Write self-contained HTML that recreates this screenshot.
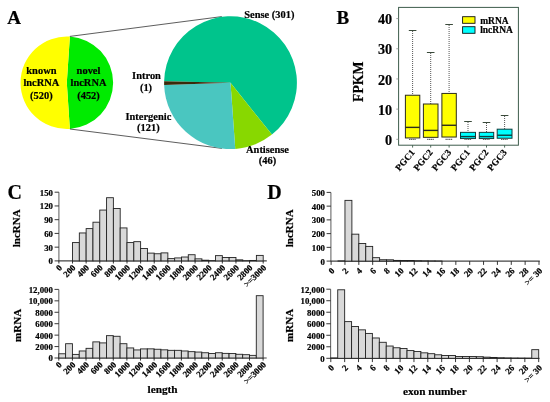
<!DOCTYPE html>
<html><head><meta charset="utf-8"><style>
html,body{margin:0;padding:0;background:#fff;}
body{width:550px;height:402px;overflow:hidden;}
svg{display:block;font-family:"Liberation Serif", serif;will-change:transform;}
text{stroke:currentColor;stroke-width:0.2px;}
</style></head><body>
<svg width="550" height="402" viewBox="0 0 550 402">
<rect width="550" height="402" fill="#fff"/>
<text x="7.20" y="23.80" font-size="19" text-anchor="start" font-weight="bold" fill="#000" >A</text>
<path d="M66.80,82.75 L69.87,36.55 A46.3,46.3 0 0 1 69.87,128.95 Z" fill="#00eb00"/>
<path d="M66.80,82.75 L69.87,128.95 A46.3,46.3 0 1 1 69.87,36.55 Z" fill="#ffff00"/>
<line x1="69.9" y1="36.4" x2="221.8" y2="16.6" stroke="#333" stroke-width="0.8"/>
<line x1="69.9" y1="129.0" x2="222.0" y2="148.4" stroke="#333" stroke-width="0.8"/>
<path d="M230.50,82.70 L164.12,81.19 A66.4,66.4 0 1 1 271.93,134.59 Z" fill="#00c48c"/>
<path d="M230.50,82.70 L271.93,134.59 A66.4,66.4 0 0 1 235.25,148.93 Z" fill="#88d800"/>
<path d="M230.50,82.70 L235.25,148.93 A66.4,66.4 0 0 1 164.14,85.02 Z" fill="#4ac6c0"/>
<path d="M230.50,82.70 L164.14,85.02 A66.4,66.4 0 0 1 164.12,81.19 Z" fill="#3a2a0a"/>
<text x="0" y="0" font-size="10.45" text-anchor="middle" font-weight="bold" fill="#000" transform="translate(41.40,73.80) scale(1,1.09)" >known</text>
<text x="0" y="0" font-size="10.45" text-anchor="middle" font-weight="bold" fill="#000" transform="translate(41.40,86.10) scale(1,1.09)" >lncRNA</text>
<text x="0" y="0" font-size="10.45" text-anchor="middle" font-weight="bold" fill="#000" transform="translate(41.40,98.80) scale(1,1.09)" >(520)</text>
<text x="0" y="0" font-size="10.45" text-anchor="middle" font-weight="bold" fill="#000" transform="translate(88.50,73.80) scale(1,1.09)" >novel</text>
<text x="0" y="0" font-size="10.45" text-anchor="middle" font-weight="bold" fill="#000" transform="translate(88.50,86.10) scale(1,1.09)" >lncRNA</text>
<text x="0" y="0" font-size="10.45" text-anchor="middle" font-weight="bold" fill="#000" transform="translate(88.50,98.80) scale(1,1.09)" >(452)</text>
<text x="0" y="0" font-size="10.45" text-anchor="middle" font-weight="bold" fill="#000" transform="translate(269.30,18.30) scale(1,1.09)" >Sense (301)</text>
<text x="0" y="0" font-size="10.45" text-anchor="middle" font-weight="bold" fill="#000" transform="translate(146.50,78.90) scale(1,1.09)" >Intron</text>
<text x="0" y="0" font-size="10.45" text-anchor="middle" font-weight="bold" fill="#000" transform="translate(146.00,90.60) scale(1,1.09)" >(1)</text>
<text x="0" y="0" font-size="10.45" text-anchor="middle" font-weight="bold" fill="#000" transform="translate(148.40,119.60) scale(1,1.09)" >Intergenic</text>
<text x="0" y="0" font-size="10.45" text-anchor="middle" font-weight="bold" fill="#000" transform="translate(148.40,130.70) scale(1,1.09)" >(121)</text>
<text x="0" y="0" font-size="10.45" text-anchor="middle" font-weight="bold" fill="#000" transform="translate(267.50,152.60) scale(1,1.09)" >Antisense</text>
<text x="0" y="0" font-size="10.45" text-anchor="middle" font-weight="bold" fill="#000" transform="translate(267.40,163.70) scale(1,1.09)" >(46)</text>
<text x="336.50" y="23.60" font-size="19" text-anchor="start" font-weight="bold" fill="#000" >B</text>
<rect x="398.6" y="7.4" width="119.79999999999995" height="137.79999999999998" fill="none" stroke="#3d5c4c" stroke-width="1.0"/>
<line x1="396.3" y1="139.30" x2="398.6" y2="139.30" stroke="#888" stroke-width="0.8"/>
<text x="392.20" y="145.00" font-size="14.2" text-anchor="end" font-weight="bold" fill="#000" >0</text>
<line x1="396.3" y1="109.12" x2="398.6" y2="109.12" stroke="#888" stroke-width="0.8"/>
<text x="392.20" y="114.83" font-size="14.2" text-anchor="end" font-weight="bold" fill="#000" >10</text>
<line x1="396.3" y1="78.95" x2="398.6" y2="78.95" stroke="#888" stroke-width="0.8"/>
<text x="392.20" y="84.65" font-size="14.2" text-anchor="end" font-weight="bold" fill="#000" >20</text>
<line x1="396.3" y1="48.77" x2="398.6" y2="48.77" stroke="#888" stroke-width="0.8"/>
<text x="392.20" y="54.47" font-size="14.2" text-anchor="end" font-weight="bold" fill="#000" >30</text>
<line x1="396.3" y1="18.60" x2="398.6" y2="18.60" stroke="#888" stroke-width="0.8"/>
<text x="392.20" y="24.30" font-size="14.2" text-anchor="end" font-weight="bold" fill="#000" >40</text>
<text x="0" y="0" font-size="13.8" font-weight="bold" text-anchor="middle" transform="translate(363.2,81.7) rotate(-90)">FPKM</text>
<rect x="462.6" y="16.7" width="12.4" height="6.6" fill="#ffff00" stroke="#111" stroke-width="0.9"/>
<rect x="462.6" y="26.7" width="12.4" height="6.6" fill="#00ffff" stroke="#111" stroke-width="0.9"/>
<text x="480.20" y="23.50" font-size="9.5" text-anchor="start" font-weight="bold" fill="#000" >mRNA</text>
<text x="480.20" y="33.30" font-size="9.5" text-anchor="start" font-weight="bold" fill="#000" >lncRNA</text>
<line x1="412.60" y1="31.00" x2="412.60" y2="95.24" stroke="#444" stroke-width="0.9" stroke-dasharray="1,1"/>
<line x1="408.80" y1="30.50" x2="416.40" y2="30.50" stroke="#3a4a3a" stroke-width="1"/>
<rect x="405.4" y="95.24" width="14.40" height="42.70" fill="#ffff00" stroke="#2c2c1c" stroke-width="1"/>
<line x1="405.4" y1="127.38" x2="419.8" y2="127.38" stroke="#2c2c1c" stroke-width="1.4"/>
<line x1="409.00" y1="139.40" x2="416.20" y2="139.40" stroke="#666" stroke-width="1.1" stroke-dasharray="1.3,0.5"/>
<line x1="412.60" y1="145.2" x2="412.60" y2="147.6" stroke="#3d5c4c" stroke-width="0.9"/>
<line x1="430.70" y1="53.00" x2="430.70" y2="104.00" stroke="#444" stroke-width="0.9" stroke-dasharray="1,1"/>
<line x1="426.90" y1="52.50" x2="434.50" y2="52.50" stroke="#3a4a3a" stroke-width="1"/>
<rect x="423.4" y="104.00" width="14.60" height="33.34" fill="#ffff00" stroke="#2c2c1c" stroke-width="1"/>
<line x1="423.4" y1="130.40" x2="438.0" y2="130.40" stroke="#2c2c1c" stroke-width="1.4"/>
<line x1="427.10" y1="139.40" x2="434.30" y2="139.40" stroke="#666" stroke-width="1.1" stroke-dasharray="1.3,0.5"/>
<line x1="430.70" y1="145.2" x2="430.70" y2="147.6" stroke="#3d5c4c" stroke-width="0.9"/>
<line x1="449.10" y1="25.00" x2="449.10" y2="93.43" stroke="#444" stroke-width="0.9" stroke-dasharray="1,1"/>
<line x1="445.30" y1="24.50" x2="452.90" y2="24.50" stroke="#3a4a3a" stroke-width="1"/>
<rect x="441.9" y="93.43" width="14.40" height="43.60" fill="#ffff00" stroke="#2c2c1c" stroke-width="1"/>
<line x1="441.9" y1="125.27" x2="456.3" y2="125.27" stroke="#2c2c1c" stroke-width="1.4"/>
<line x1="445.50" y1="139.40" x2="452.70" y2="139.40" stroke="#666" stroke-width="1.1" stroke-dasharray="1.3,0.5"/>
<line x1="449.10" y1="145.2" x2="449.10" y2="147.6" stroke="#3d5c4c" stroke-width="0.9"/>
<line x1="468.00" y1="122.00" x2="468.00" y2="132.36" stroke="#444" stroke-width="0.9" stroke-dasharray="1,1"/>
<line x1="464.20" y1="121.50" x2="471.80" y2="121.50" stroke="#3a4a3a" stroke-width="1"/>
<rect x="460.5" y="132.36" width="15.00" height="6.19" fill="#00ffff" stroke="#0d3d3d" stroke-width="1"/>
<line x1="460.5" y1="136.58" x2="475.5" y2="136.58" stroke="#0d3d3d" stroke-width="1.4"/>
<line x1="464.40" y1="139.40" x2="471.60" y2="139.40" stroke="#666" stroke-width="1.1" stroke-dasharray="1.3,0.5"/>
<line x1="468.00" y1="145.2" x2="468.00" y2="147.6" stroke="#3d5c4c" stroke-width="0.9"/>
<line x1="486.50" y1="123.00" x2="486.50" y2="132.36" stroke="#444" stroke-width="0.9" stroke-dasharray="1,1"/>
<line x1="482.70" y1="122.50" x2="490.30" y2="122.50" stroke="#3a4a3a" stroke-width="1"/>
<rect x="479.3" y="132.36" width="14.40" height="6.19" fill="#00ffff" stroke="#0d3d3d" stroke-width="1"/>
<line x1="479.3" y1="136.58" x2="493.7" y2="136.58" stroke="#0d3d3d" stroke-width="1.4"/>
<line x1="482.90" y1="139.40" x2="490.10" y2="139.40" stroke="#666" stroke-width="1.1" stroke-dasharray="1.3,0.5"/>
<line x1="486.50" y1="145.2" x2="486.50" y2="147.6" stroke="#3d5c4c" stroke-width="0.9"/>
<line x1="504.60" y1="116.00" x2="504.60" y2="129.19" stroke="#444" stroke-width="0.9" stroke-dasharray="1,1"/>
<line x1="500.80" y1="115.50" x2="508.40" y2="115.50" stroke="#3a4a3a" stroke-width="1"/>
<rect x="497.2" y="129.19" width="14.80" height="9.05" fill="#00ffff" stroke="#0d3d3d" stroke-width="1"/>
<line x1="497.2" y1="135.23" x2="512.0" y2="135.23" stroke="#0d3d3d" stroke-width="1.4"/>
<line x1="501.00" y1="139.40" x2="508.20" y2="139.40" stroke="#666" stroke-width="1.1" stroke-dasharray="1.3,0.5"/>
<line x1="504.60" y1="145.2" x2="504.60" y2="147.6" stroke="#3d5c4c" stroke-width="0.9"/>
<text x="0" y="0" font-size="9.3" font-weight="bold" text-anchor="end" transform="translate(415.20,152.80) rotate(-50)">PGC1</text>
<text x="0" y="0" font-size="9.3" font-weight="bold" text-anchor="end" transform="translate(433.30,152.80) rotate(-50)">PGC2</text>
<text x="0" y="0" font-size="9.3" font-weight="bold" text-anchor="end" transform="translate(451.70,152.80) rotate(-50)">PGC3</text>
<text x="0" y="0" font-size="9.3" font-weight="bold" text-anchor="end" transform="translate(470.60,152.80) rotate(-50)">PGC1</text>
<text x="0" y="0" font-size="9.3" font-weight="bold" text-anchor="end" transform="translate(489.10,152.80) rotate(-50)">PGC2</text>
<text x="0" y="0" font-size="9.3" font-weight="bold" text-anchor="end" transform="translate(507.20,152.80) rotate(-50)">PGC3</text>
<line x1="58.9" y1="192.20" x2="58.9" y2="260.90" stroke="#6a6a6a" stroke-width="1.1"/>
<line x1="54.60" y1="260.90" x2="58.9" y2="260.90" stroke="#222" stroke-width="0.9"/>
<text x="53.00" y="264.30" font-size="8.8" text-anchor="end" font-weight="bold" fill="#000" >0</text>
<line x1="54.60" y1="247.16" x2="58.9" y2="247.16" stroke="#222" stroke-width="0.9"/>
<text x="53.00" y="250.56" font-size="8.8" text-anchor="end" font-weight="bold" fill="#000" >30</text>
<line x1="54.60" y1="233.42" x2="58.9" y2="233.42" stroke="#222" stroke-width="0.9"/>
<text x="53.00" y="236.82" font-size="8.8" text-anchor="end" font-weight="bold" fill="#000" >60</text>
<line x1="54.60" y1="219.68" x2="58.9" y2="219.68" stroke="#222" stroke-width="0.9"/>
<text x="53.00" y="223.08" font-size="8.8" text-anchor="end" font-weight="bold" fill="#000" >90</text>
<line x1="54.60" y1="205.94" x2="58.9" y2="205.94" stroke="#222" stroke-width="0.9"/>
<text x="53.00" y="209.34" font-size="8.8" text-anchor="end" font-weight="bold" fill="#000" >120</text>
<line x1="54.60" y1="192.20" x2="58.9" y2="192.20" stroke="#222" stroke-width="0.9"/>
<text x="53.00" y="195.60" font-size="8.8" text-anchor="end" font-weight="bold" fill="#000" >150</text>
<line x1="58.40" y1="260.90" x2="266.80" y2="260.90" stroke="#454545" stroke-width="1.2"/>
<rect x="72.52" y="242.58" width="6.81" height="18.32" fill="#d9d9d9" stroke="#222" stroke-width="0.9"/>
<rect x="79.33" y="232.96" width="6.81" height="27.94" fill="#d9d9d9" stroke="#222" stroke-width="0.9"/>
<rect x="86.14" y="228.61" width="6.81" height="32.29" fill="#d9d9d9" stroke="#222" stroke-width="0.9"/>
<rect x="92.95" y="222.20" width="6.81" height="38.70" fill="#d9d9d9" stroke="#222" stroke-width="0.9"/>
<rect x="99.76" y="210.06" width="6.81" height="50.84" fill="#d9d9d9" stroke="#222" stroke-width="0.9"/>
<rect x="106.57" y="197.70" width="6.81" height="63.20" fill="#d9d9d9" stroke="#222" stroke-width="0.9"/>
<rect x="113.38" y="208.46" width="6.81" height="52.44" fill="#d9d9d9" stroke="#222" stroke-width="0.9"/>
<rect x="120.19" y="227.92" width="6.81" height="32.98" fill="#d9d9d9" stroke="#222" stroke-width="0.9"/>
<rect x="127.00" y="242.58" width="6.81" height="18.32" fill="#d9d9d9" stroke="#222" stroke-width="0.9"/>
<rect x="133.81" y="241.66" width="6.81" height="19.24" fill="#d9d9d9" stroke="#222" stroke-width="0.9"/>
<rect x="140.62" y="248.53" width="6.81" height="12.37" fill="#d9d9d9" stroke="#222" stroke-width="0.9"/>
<rect x="147.43" y="253.11" width="6.81" height="7.79" fill="#d9d9d9" stroke="#222" stroke-width="0.9"/>
<rect x="154.24" y="253.76" width="6.81" height="7.14" fill="#d9d9d9" stroke="#222" stroke-width="0.9"/>
<rect x="161.05" y="252.88" width="6.81" height="8.01" fill="#d9d9d9" stroke="#222" stroke-width="0.9"/>
<rect x="167.86" y="258.61" width="6.81" height="2.29" fill="#d9d9d9" stroke="#222" stroke-width="0.9"/>
<rect x="174.67" y="257.92" width="6.81" height="2.98" fill="#d9d9d9" stroke="#222" stroke-width="0.9"/>
<rect x="181.48" y="257.01" width="6.81" height="3.89" fill="#d9d9d9" stroke="#222" stroke-width="0.9"/>
<rect x="188.29" y="254.72" width="6.81" height="6.18" fill="#d9d9d9" stroke="#222" stroke-width="0.9"/>
<rect x="195.10" y="258.84" width="6.81" height="2.06" fill="#d9d9d9" stroke="#222" stroke-width="0.9"/>
<rect x="201.91" y="260.21" width="6.81" height="0.69" fill="#d9d9d9" stroke="#222" stroke-width="0.9"/>
<rect x="208.72" y="260.63" width="6.81" height="0.27" fill="#d9d9d9" stroke="#222" stroke-width="0.9"/>
<rect x="215.53" y="255.63" width="6.81" height="5.27" fill="#d9d9d9" stroke="#222" stroke-width="0.9"/>
<rect x="222.34" y="257.46" width="6.81" height="3.43" fill="#d9d9d9" stroke="#222" stroke-width="0.9"/>
<rect x="229.15" y="257.46" width="6.81" height="3.43" fill="#d9d9d9" stroke="#222" stroke-width="0.9"/>
<rect x="235.96" y="259.85" width="6.81" height="1.05" fill="#d9d9d9" stroke="#222" stroke-width="0.9"/>
<rect x="242.77" y="260.76" width="6.81" height="0.14" fill="#d9d9d9" stroke="#222" stroke-width="0.9"/>
<rect x="249.58" y="260.44" width="6.81" height="0.46" fill="#d9d9d9" stroke="#222" stroke-width="0.9"/>
<rect x="256.39" y="255.40" width="6.81" height="5.50" fill="#d9d9d9" stroke="#222" stroke-width="0.9"/>
<line x1="58.90" y1="260.90" x2="58.90" y2="263.50" stroke="#222" stroke-width="0.9"/>
<text x="0" y="0" font-size="8.8" font-weight="bold" text-anchor="end" transform="translate(62.50,268.30) rotate(-45)">0</text>
<line x1="72.52" y1="260.90" x2="72.52" y2="263.50" stroke="#222" stroke-width="0.9"/>
<text x="0" y="0" font-size="8.8" font-weight="bold" text-anchor="end" transform="translate(76.12,268.30) rotate(-45)">200</text>
<line x1="86.14" y1="260.90" x2="86.14" y2="263.50" stroke="#222" stroke-width="0.9"/>
<text x="0" y="0" font-size="8.8" font-weight="bold" text-anchor="end" transform="translate(89.74,268.30) rotate(-45)">400</text>
<line x1="99.76" y1="260.90" x2="99.76" y2="263.50" stroke="#222" stroke-width="0.9"/>
<text x="0" y="0" font-size="8.8" font-weight="bold" text-anchor="end" transform="translate(103.36,268.30) rotate(-45)">600</text>
<line x1="113.38" y1="260.90" x2="113.38" y2="263.50" stroke="#222" stroke-width="0.9"/>
<text x="0" y="0" font-size="8.8" font-weight="bold" text-anchor="end" transform="translate(116.98,268.30) rotate(-45)">800</text>
<line x1="127.00" y1="260.90" x2="127.00" y2="263.50" stroke="#222" stroke-width="0.9"/>
<text x="0" y="0" font-size="8.8" font-weight="bold" text-anchor="end" transform="translate(130.60,268.30) rotate(-45)">1000</text>
<line x1="140.62" y1="260.90" x2="140.62" y2="263.50" stroke="#222" stroke-width="0.9"/>
<text x="0" y="0" font-size="8.8" font-weight="bold" text-anchor="end" transform="translate(144.22,268.30) rotate(-45)">1200</text>
<line x1="154.24" y1="260.90" x2="154.24" y2="263.50" stroke="#222" stroke-width="0.9"/>
<text x="0" y="0" font-size="8.8" font-weight="bold" text-anchor="end" transform="translate(157.84,268.30) rotate(-45)">1400</text>
<line x1="167.86" y1="260.90" x2="167.86" y2="263.50" stroke="#222" stroke-width="0.9"/>
<text x="0" y="0" font-size="8.8" font-weight="bold" text-anchor="end" transform="translate(171.46,268.30) rotate(-45)">1600</text>
<line x1="181.48" y1="260.90" x2="181.48" y2="263.50" stroke="#222" stroke-width="0.9"/>
<text x="0" y="0" font-size="8.8" font-weight="bold" text-anchor="end" transform="translate(185.08,268.30) rotate(-45)">1800</text>
<line x1="195.10" y1="260.90" x2="195.10" y2="263.50" stroke="#222" stroke-width="0.9"/>
<text x="0" y="0" font-size="8.8" font-weight="bold" text-anchor="end" transform="translate(198.70,268.30) rotate(-45)">2000</text>
<line x1="208.72" y1="260.90" x2="208.72" y2="263.50" stroke="#222" stroke-width="0.9"/>
<text x="0" y="0" font-size="8.8" font-weight="bold" text-anchor="end" transform="translate(212.32,268.30) rotate(-45)">2200</text>
<line x1="222.34" y1="260.90" x2="222.34" y2="263.50" stroke="#222" stroke-width="0.9"/>
<text x="0" y="0" font-size="8.8" font-weight="bold" text-anchor="end" transform="translate(225.94,268.30) rotate(-45)">2400</text>
<line x1="235.96" y1="260.90" x2="235.96" y2="263.50" stroke="#222" stroke-width="0.9"/>
<text x="0" y="0" font-size="8.8" font-weight="bold" text-anchor="end" transform="translate(239.56,268.30) rotate(-45)">2600</text>
<line x1="249.58" y1="260.90" x2="249.58" y2="263.50" stroke="#222" stroke-width="0.9"/>
<text x="0" y="0" font-size="8.8" font-weight="bold" text-anchor="end" transform="translate(253.18,268.30) rotate(-45)">2800</text>
<line x1="263.20" y1="260.90" x2="263.20" y2="263.50" stroke="#222" stroke-width="0.9"/>
<text x="0" y="0" font-size="8.8" font-weight="bold" text-anchor="end" transform="translate(266.80,268.30) rotate(-45)"><tspan font-weight="normal" fill="#1a1a1a">&gt;=</tspan>3000</text>
<text x="0" y="0" font-size="11" font-weight="bold" text-anchor="middle" transform="translate(20.30,228.30) rotate(-90)">lncRNA</text>
<line x1="58.8" y1="289.40" x2="58.8" y2="358.00" stroke="#6a6a6a" stroke-width="1.1"/>
<line x1="54.50" y1="358.00" x2="58.8" y2="358.00" stroke="#222" stroke-width="0.9"/>
<text x="52.90" y="361.40" font-size="8.8" text-anchor="end" font-weight="bold" fill="#000" >0</text>
<line x1="54.50" y1="346.57" x2="58.8" y2="346.57" stroke="#222" stroke-width="0.9"/>
<text x="52.90" y="349.97" font-size="8.8" text-anchor="end" font-weight="bold" fill="#000" >2000</text>
<line x1="54.50" y1="335.13" x2="58.8" y2="335.13" stroke="#222" stroke-width="0.9"/>
<text x="52.90" y="338.53" font-size="8.8" text-anchor="end" font-weight="bold" fill="#000" >4000</text>
<line x1="54.50" y1="323.70" x2="58.8" y2="323.70" stroke="#222" stroke-width="0.9"/>
<text x="52.90" y="327.10" font-size="8.8" text-anchor="end" font-weight="bold" fill="#000" >6000</text>
<line x1="54.50" y1="312.27" x2="58.8" y2="312.27" stroke="#222" stroke-width="0.9"/>
<text x="52.90" y="315.67" font-size="8.8" text-anchor="end" font-weight="bold" fill="#000" >8000</text>
<line x1="54.50" y1="300.83" x2="58.8" y2="300.83" stroke="#222" stroke-width="0.9"/>
<text x="52.90" y="304.23" font-size="8.8" text-anchor="end" font-weight="bold" fill="#000" >10,000</text>
<line x1="54.50" y1="289.40" x2="58.8" y2="289.40" stroke="#222" stroke-width="0.9"/>
<text x="52.90" y="292.80" font-size="8.8" text-anchor="end" font-weight="bold" fill="#000" >12,000</text>
<line x1="58.30" y1="358.00" x2="266.70" y2="358.00" stroke="#454545" stroke-width="1.2"/>
<rect x="58.80" y="353.77" width="6.81" height="4.23" fill="#d9d9d9" stroke="#222" stroke-width="0.9"/>
<rect x="65.61" y="343.71" width="6.81" height="14.29" fill="#d9d9d9" stroke="#222" stroke-width="0.9"/>
<rect x="72.42" y="354.40" width="6.81" height="3.60" fill="#d9d9d9" stroke="#222" stroke-width="0.9"/>
<rect x="79.23" y="350.97" width="6.81" height="7.03" fill="#d9d9d9" stroke="#222" stroke-width="0.9"/>
<rect x="86.04" y="348.34" width="6.81" height="9.66" fill="#d9d9d9" stroke="#222" stroke-width="0.9"/>
<rect x="92.85" y="341.88" width="6.81" height="16.12" fill="#d9d9d9" stroke="#222" stroke-width="0.9"/>
<rect x="99.66" y="342.91" width="6.81" height="15.09" fill="#d9d9d9" stroke="#222" stroke-width="0.9"/>
<rect x="106.47" y="335.65" width="6.81" height="22.35" fill="#d9d9d9" stroke="#222" stroke-width="0.9"/>
<rect x="113.28" y="336.28" width="6.81" height="21.72" fill="#d9d9d9" stroke="#222" stroke-width="0.9"/>
<rect x="120.09" y="343.71" width="6.81" height="14.29" fill="#d9d9d9" stroke="#222" stroke-width="0.9"/>
<rect x="126.90" y="347.94" width="6.81" height="10.06" fill="#d9d9d9" stroke="#222" stroke-width="0.9"/>
<rect x="133.71" y="349.94" width="6.81" height="8.06" fill="#d9d9d9" stroke="#222" stroke-width="0.9"/>
<rect x="140.52" y="348.91" width="6.81" height="9.09" fill="#d9d9d9" stroke="#222" stroke-width="0.9"/>
<rect x="147.33" y="348.85" width="6.81" height="9.15" fill="#d9d9d9" stroke="#222" stroke-width="0.9"/>
<rect x="154.14" y="349.25" width="6.81" height="8.75" fill="#d9d9d9" stroke="#222" stroke-width="0.9"/>
<rect x="160.95" y="349.83" width="6.81" height="8.17" fill="#d9d9d9" stroke="#222" stroke-width="0.9"/>
<rect x="167.76" y="350.34" width="6.81" height="7.66" fill="#d9d9d9" stroke="#222" stroke-width="0.9"/>
<rect x="174.57" y="350.34" width="6.81" height="7.66" fill="#d9d9d9" stroke="#222" stroke-width="0.9"/>
<rect x="181.38" y="350.97" width="6.81" height="7.03" fill="#d9d9d9" stroke="#222" stroke-width="0.9"/>
<rect x="188.19" y="351.65" width="6.81" height="6.35" fill="#d9d9d9" stroke="#222" stroke-width="0.9"/>
<rect x="195.00" y="352.05" width="6.81" height="5.95" fill="#d9d9d9" stroke="#222" stroke-width="0.9"/>
<rect x="201.81" y="352.74" width="6.81" height="5.26" fill="#d9d9d9" stroke="#222" stroke-width="0.9"/>
<rect x="208.62" y="353.54" width="6.81" height="4.46" fill="#d9d9d9" stroke="#222" stroke-width="0.9"/>
<rect x="215.43" y="352.74" width="6.81" height="5.26" fill="#d9d9d9" stroke="#222" stroke-width="0.9"/>
<rect x="222.24" y="353.37" width="6.81" height="4.63" fill="#d9d9d9" stroke="#222" stroke-width="0.9"/>
<rect x="229.05" y="353.54" width="6.81" height="4.46" fill="#d9d9d9" stroke="#222" stroke-width="0.9"/>
<rect x="235.86" y="354.28" width="6.81" height="3.72" fill="#d9d9d9" stroke="#222" stroke-width="0.9"/>
<rect x="242.67" y="354.68" width="6.81" height="3.32" fill="#d9d9d9" stroke="#222" stroke-width="0.9"/>
<rect x="249.48" y="355.37" width="6.81" height="2.63" fill="#d9d9d9" stroke="#222" stroke-width="0.9"/>
<rect x="256.29" y="295.69" width="6.81" height="62.31" fill="#d9d9d9" stroke="#222" stroke-width="0.9"/>
<line x1="58.80" y1="358.00" x2="58.80" y2="360.60" stroke="#222" stroke-width="0.9"/>
<text x="0" y="0" font-size="8.8" font-weight="bold" text-anchor="end" transform="translate(62.40,365.40) rotate(-45)">0</text>
<line x1="72.42" y1="358.00" x2="72.42" y2="360.60" stroke="#222" stroke-width="0.9"/>
<text x="0" y="0" font-size="8.8" font-weight="bold" text-anchor="end" transform="translate(76.02,365.40) rotate(-45)">200</text>
<line x1="86.04" y1="358.00" x2="86.04" y2="360.60" stroke="#222" stroke-width="0.9"/>
<text x="0" y="0" font-size="8.8" font-weight="bold" text-anchor="end" transform="translate(89.64,365.40) rotate(-45)">400</text>
<line x1="99.66" y1="358.00" x2="99.66" y2="360.60" stroke="#222" stroke-width="0.9"/>
<text x="0" y="0" font-size="8.8" font-weight="bold" text-anchor="end" transform="translate(103.26,365.40) rotate(-45)">600</text>
<line x1="113.28" y1="358.00" x2="113.28" y2="360.60" stroke="#222" stroke-width="0.9"/>
<text x="0" y="0" font-size="8.8" font-weight="bold" text-anchor="end" transform="translate(116.88,365.40) rotate(-45)">800</text>
<line x1="126.90" y1="358.00" x2="126.90" y2="360.60" stroke="#222" stroke-width="0.9"/>
<text x="0" y="0" font-size="8.8" font-weight="bold" text-anchor="end" transform="translate(130.50,365.40) rotate(-45)">1000</text>
<line x1="140.52" y1="358.00" x2="140.52" y2="360.60" stroke="#222" stroke-width="0.9"/>
<text x="0" y="0" font-size="8.8" font-weight="bold" text-anchor="end" transform="translate(144.12,365.40) rotate(-45)">1200</text>
<line x1="154.14" y1="358.00" x2="154.14" y2="360.60" stroke="#222" stroke-width="0.9"/>
<text x="0" y="0" font-size="8.8" font-weight="bold" text-anchor="end" transform="translate(157.74,365.40) rotate(-45)">1400</text>
<line x1="167.76" y1="358.00" x2="167.76" y2="360.60" stroke="#222" stroke-width="0.9"/>
<text x="0" y="0" font-size="8.8" font-weight="bold" text-anchor="end" transform="translate(171.36,365.40) rotate(-45)">1600</text>
<line x1="181.38" y1="358.00" x2="181.38" y2="360.60" stroke="#222" stroke-width="0.9"/>
<text x="0" y="0" font-size="8.8" font-weight="bold" text-anchor="end" transform="translate(184.98,365.40) rotate(-45)">1800</text>
<line x1="195.00" y1="358.00" x2="195.00" y2="360.60" stroke="#222" stroke-width="0.9"/>
<text x="0" y="0" font-size="8.8" font-weight="bold" text-anchor="end" transform="translate(198.60,365.40) rotate(-45)">2000</text>
<line x1="208.62" y1="358.00" x2="208.62" y2="360.60" stroke="#222" stroke-width="0.9"/>
<text x="0" y="0" font-size="8.8" font-weight="bold" text-anchor="end" transform="translate(212.22,365.40) rotate(-45)">2200</text>
<line x1="222.24" y1="358.00" x2="222.24" y2="360.60" stroke="#222" stroke-width="0.9"/>
<text x="0" y="0" font-size="8.8" font-weight="bold" text-anchor="end" transform="translate(225.84,365.40) rotate(-45)">2400</text>
<line x1="235.86" y1="358.00" x2="235.86" y2="360.60" stroke="#222" stroke-width="0.9"/>
<text x="0" y="0" font-size="8.8" font-weight="bold" text-anchor="end" transform="translate(239.46,365.40) rotate(-45)">2600</text>
<line x1="249.48" y1="358.00" x2="249.48" y2="360.60" stroke="#222" stroke-width="0.9"/>
<text x="0" y="0" font-size="8.8" font-weight="bold" text-anchor="end" transform="translate(253.08,365.40) rotate(-45)">2800</text>
<line x1="263.10" y1="358.00" x2="263.10" y2="360.60" stroke="#222" stroke-width="0.9"/>
<text x="0" y="0" font-size="8.8" font-weight="bold" text-anchor="end" transform="translate(266.70,365.40) rotate(-45)"><tspan font-weight="normal" fill="#1a1a1a">&gt;=</tspan>3000</text>
<text x="0" y="0" font-size="11" font-weight="bold" text-anchor="middle" transform="translate(21.20,325.40) rotate(-90)">mRNA</text>
<line x1="330.9" y1="192.40" x2="330.9" y2="261.10" stroke="#6a6a6a" stroke-width="1.1"/>
<line x1="326.60" y1="261.10" x2="330.9" y2="261.10" stroke="#222" stroke-width="0.9"/>
<text x="325.00" y="264.50" font-size="8.8" text-anchor="end" font-weight="bold" fill="#000" >0</text>
<line x1="326.60" y1="247.36" x2="330.9" y2="247.36" stroke="#222" stroke-width="0.9"/>
<text x="325.00" y="250.76" font-size="8.8" text-anchor="end" font-weight="bold" fill="#000" >100</text>
<line x1="326.60" y1="233.62" x2="330.9" y2="233.62" stroke="#222" stroke-width="0.9"/>
<text x="325.00" y="237.02" font-size="8.8" text-anchor="end" font-weight="bold" fill="#000" >200</text>
<line x1="326.60" y1="219.88" x2="330.9" y2="219.88" stroke="#222" stroke-width="0.9"/>
<text x="325.00" y="223.28" font-size="8.8" text-anchor="end" font-weight="bold" fill="#000" >300</text>
<line x1="326.60" y1="206.14" x2="330.9" y2="206.14" stroke="#222" stroke-width="0.9"/>
<text x="325.00" y="209.54" font-size="8.8" text-anchor="end" font-weight="bold" fill="#000" >400</text>
<line x1="326.60" y1="192.40" x2="330.9" y2="192.40" stroke="#222" stroke-width="0.9"/>
<text x="325.00" y="195.80" font-size="8.8" text-anchor="end" font-weight="bold" fill="#000" >500</text>
<line x1="330.40" y1="261.10" x2="539.80" y2="261.10" stroke="#454545" stroke-width="1.2"/>
<rect x="338.03" y="260.89" width="6.93" height="0.21" fill="#d9d9d9" stroke="#222" stroke-width="0.9"/>
<rect x="344.96" y="200.37" width="6.93" height="60.73" fill="#d9d9d9" stroke="#222" stroke-width="0.9"/>
<rect x="351.89" y="234.17" width="6.93" height="26.93" fill="#d9d9d9" stroke="#222" stroke-width="0.9"/>
<rect x="358.82" y="243.51" width="6.93" height="17.59" fill="#d9d9d9" stroke="#222" stroke-width="0.9"/>
<rect x="365.75" y="246.40" width="6.93" height="14.70" fill="#d9d9d9" stroke="#222" stroke-width="0.9"/>
<rect x="372.68" y="257.67" width="6.93" height="3.44" fill="#d9d9d9" stroke="#222" stroke-width="0.9"/>
<rect x="379.61" y="259.73" width="6.93" height="1.37" fill="#d9d9d9" stroke="#222" stroke-width="0.9"/>
<rect x="386.54" y="259.79" width="6.93" height="1.31" fill="#d9d9d9" stroke="#222" stroke-width="0.9"/>
<rect x="393.47" y="260.41" width="6.93" height="0.69" fill="#d9d9d9" stroke="#222" stroke-width="0.9"/>
<rect x="400.40" y="260.55" width="6.93" height="0.55" fill="#d9d9d9" stroke="#222" stroke-width="0.9"/>
<rect x="407.33" y="260.55" width="6.93" height="0.55" fill="#d9d9d9" stroke="#222" stroke-width="0.9"/>
<rect x="414.26" y="260.69" width="6.93" height="0.41" fill="#d9d9d9" stroke="#222" stroke-width="0.9"/>
<rect x="421.19" y="260.83" width="6.93" height="0.27" fill="#d9d9d9" stroke="#222" stroke-width="0.9"/>
<rect x="428.12" y="260.96" width="6.93" height="0.14" fill="#d9d9d9" stroke="#222" stroke-width="0.9"/>
<rect x="435.05" y="261.03" width="6.93" height="0.07" fill="#d9d9d9" stroke="#222" stroke-width="0.9"/>
<line x1="331.10" y1="261.10" x2="331.10" y2="264.90" stroke="#222" stroke-width="0.9"/>
<text x="0" y="0" font-size="8.8" font-weight="bold" text-anchor="end" transform="translate(335.00,271.30) rotate(-45)">0</text>
<line x1="344.96" y1="261.10" x2="344.96" y2="264.90" stroke="#222" stroke-width="0.9"/>
<text x="0" y="0" font-size="8.8" font-weight="bold" text-anchor="end" transform="translate(348.86,271.30) rotate(-45)">2</text>
<line x1="358.82" y1="261.10" x2="358.82" y2="264.90" stroke="#222" stroke-width="0.9"/>
<text x="0" y="0" font-size="8.8" font-weight="bold" text-anchor="end" transform="translate(362.72,271.30) rotate(-45)">4</text>
<line x1="372.68" y1="261.10" x2="372.68" y2="264.90" stroke="#222" stroke-width="0.9"/>
<text x="0" y="0" font-size="8.8" font-weight="bold" text-anchor="end" transform="translate(376.58,271.30) rotate(-45)">6</text>
<line x1="386.54" y1="261.10" x2="386.54" y2="264.90" stroke="#222" stroke-width="0.9"/>
<text x="0" y="0" font-size="8.8" font-weight="bold" text-anchor="end" transform="translate(390.44,271.30) rotate(-45)">8</text>
<line x1="400.40" y1="261.10" x2="400.40" y2="264.90" stroke="#222" stroke-width="0.9"/>
<text x="0" y="0" font-size="8.8" font-weight="bold" text-anchor="end" transform="translate(404.30,271.30) rotate(-45)">10</text>
<line x1="414.26" y1="261.10" x2="414.26" y2="264.90" stroke="#222" stroke-width="0.9"/>
<text x="0" y="0" font-size="8.8" font-weight="bold" text-anchor="end" transform="translate(418.16,271.30) rotate(-45)">12</text>
<line x1="428.12" y1="261.10" x2="428.12" y2="264.90" stroke="#222" stroke-width="0.9"/>
<text x="0" y="0" font-size="8.8" font-weight="bold" text-anchor="end" transform="translate(432.02,271.30) rotate(-45)">14</text>
<line x1="441.98" y1="261.10" x2="441.98" y2="264.90" stroke="#222" stroke-width="0.9"/>
<text x="0" y="0" font-size="8.8" font-weight="bold" text-anchor="end" transform="translate(445.88,271.30) rotate(-45)">16</text>
<line x1="455.84" y1="261.10" x2="455.84" y2="264.90" stroke="#222" stroke-width="0.9"/>
<text x="0" y="0" font-size="8.8" font-weight="bold" text-anchor="end" transform="translate(459.74,271.30) rotate(-45)">18</text>
<line x1="469.70" y1="261.10" x2="469.70" y2="264.90" stroke="#222" stroke-width="0.9"/>
<text x="0" y="0" font-size="8.8" font-weight="bold" text-anchor="end" transform="translate(473.60,271.30) rotate(-45)">20</text>
<line x1="483.56" y1="261.10" x2="483.56" y2="264.90" stroke="#222" stroke-width="0.9"/>
<text x="0" y="0" font-size="8.8" font-weight="bold" text-anchor="end" transform="translate(487.46,271.30) rotate(-45)">22</text>
<line x1="497.42" y1="261.10" x2="497.42" y2="264.90" stroke="#222" stroke-width="0.9"/>
<text x="0" y="0" font-size="8.8" font-weight="bold" text-anchor="end" transform="translate(501.32,271.30) rotate(-45)">24</text>
<line x1="511.28" y1="261.10" x2="511.28" y2="264.90" stroke="#222" stroke-width="0.9"/>
<text x="0" y="0" font-size="8.8" font-weight="bold" text-anchor="end" transform="translate(515.18,271.30) rotate(-45)">26</text>
<line x1="525.14" y1="261.10" x2="525.14" y2="264.90" stroke="#222" stroke-width="0.9"/>
<text x="0" y="0" font-size="8.8" font-weight="bold" text-anchor="end" transform="translate(529.04,271.30) rotate(-45)">28</text>
<line x1="539.00" y1="261.10" x2="539.00" y2="264.90" stroke="#222" stroke-width="0.9"/>
<text x="0" y="0" font-size="8.8" font-weight="bold" text-anchor="end" transform="translate(542.90,271.30) rotate(-45)"><tspan font-weight="normal" fill="#1a1a1a">&gt;=</tspan> 30</text>
<text x="0" y="0" font-size="11" font-weight="bold" text-anchor="middle" transform="translate(292.60,228.30) rotate(-90)">lncRNA</text>
<line x1="330.6" y1="289.20" x2="330.6" y2="358.30" stroke="#6a6a6a" stroke-width="1.1"/>
<line x1="326.30" y1="358.30" x2="330.6" y2="358.30" stroke="#222" stroke-width="0.9"/>
<text x="324.70" y="361.70" font-size="8.8" text-anchor="end" font-weight="bold" fill="#000" >0</text>
<line x1="326.30" y1="346.78" x2="330.6" y2="346.78" stroke="#222" stroke-width="0.9"/>
<text x="324.70" y="350.18" font-size="8.8" text-anchor="end" font-weight="bold" fill="#000" >2000</text>
<line x1="326.30" y1="335.27" x2="330.6" y2="335.27" stroke="#222" stroke-width="0.9"/>
<text x="324.70" y="338.67" font-size="8.8" text-anchor="end" font-weight="bold" fill="#000" >4000</text>
<line x1="326.30" y1="323.75" x2="330.6" y2="323.75" stroke="#222" stroke-width="0.9"/>
<text x="324.70" y="327.15" font-size="8.8" text-anchor="end" font-weight="bold" fill="#000" >6000</text>
<line x1="326.30" y1="312.23" x2="330.6" y2="312.23" stroke="#222" stroke-width="0.9"/>
<text x="324.70" y="315.63" font-size="8.8" text-anchor="end" font-weight="bold" fill="#000" >8000</text>
<line x1="326.30" y1="300.72" x2="330.6" y2="300.72" stroke="#222" stroke-width="0.9"/>
<text x="324.70" y="304.12" font-size="8.8" text-anchor="end" font-weight="bold" fill="#000" >10,000</text>
<line x1="326.30" y1="289.20" x2="330.6" y2="289.20" stroke="#222" stroke-width="0.9"/>
<text x="324.70" y="292.60" font-size="8.8" text-anchor="end" font-weight="bold" fill="#000" >12,000</text>
<line x1="330.10" y1="358.30" x2="539.50" y2="358.30" stroke="#454545" stroke-width="1.2"/>
<rect x="330.80" y="357.95" width="6.93" height="0.35" fill="#d9d9d9" stroke="#222" stroke-width="0.9"/>
<rect x="337.73" y="289.78" width="6.93" height="68.52" fill="#d9d9d9" stroke="#222" stroke-width="0.9"/>
<rect x="344.66" y="321.62" width="6.93" height="36.68" fill="#d9d9d9" stroke="#222" stroke-width="0.9"/>
<rect x="351.59" y="326.46" width="6.93" height="31.84" fill="#d9d9d9" stroke="#222" stroke-width="0.9"/>
<rect x="358.52" y="329.85" width="6.93" height="28.45" fill="#d9d9d9" stroke="#222" stroke-width="0.9"/>
<rect x="365.45" y="333.42" width="6.93" height="24.88" fill="#d9d9d9" stroke="#222" stroke-width="0.9"/>
<rect x="372.38" y="337.97" width="6.93" height="20.33" fill="#d9d9d9" stroke="#222" stroke-width="0.9"/>
<rect x="379.31" y="342.29" width="6.93" height="16.01" fill="#d9d9d9" stroke="#222" stroke-width="0.9"/>
<rect x="386.24" y="346.03" width="6.93" height="12.27" fill="#d9d9d9" stroke="#222" stroke-width="0.9"/>
<rect x="393.17" y="347.76" width="6.93" height="10.54" fill="#d9d9d9" stroke="#222" stroke-width="0.9"/>
<rect x="400.10" y="348.51" width="6.93" height="9.79" fill="#d9d9d9" stroke="#222" stroke-width="0.9"/>
<rect x="407.03" y="350.58" width="6.93" height="7.72" fill="#d9d9d9" stroke="#222" stroke-width="0.9"/>
<rect x="413.96" y="351.51" width="6.93" height="6.79" fill="#d9d9d9" stroke="#222" stroke-width="0.9"/>
<rect x="420.89" y="352.83" width="6.93" height="5.47" fill="#d9d9d9" stroke="#222" stroke-width="0.9"/>
<rect x="427.82" y="353.69" width="6.93" height="4.61" fill="#d9d9d9" stroke="#222" stroke-width="0.9"/>
<rect x="434.75" y="354.79" width="6.93" height="3.51" fill="#d9d9d9" stroke="#222" stroke-width="0.9"/>
<rect x="441.68" y="355.48" width="6.93" height="2.82" fill="#d9d9d9" stroke="#222" stroke-width="0.9"/>
<rect x="448.61" y="355.48" width="6.93" height="2.82" fill="#d9d9d9" stroke="#222" stroke-width="0.9"/>
<rect x="455.54" y="356.51" width="6.93" height="1.79" fill="#d9d9d9" stroke="#222" stroke-width="0.9"/>
<rect x="462.47" y="356.51" width="6.93" height="1.79" fill="#d9d9d9" stroke="#222" stroke-width="0.9"/>
<rect x="469.40" y="356.51" width="6.93" height="1.79" fill="#d9d9d9" stroke="#222" stroke-width="0.9"/>
<rect x="476.33" y="356.69" width="6.93" height="1.61" fill="#d9d9d9" stroke="#222" stroke-width="0.9"/>
<rect x="483.26" y="357.15" width="6.93" height="1.15" fill="#d9d9d9" stroke="#222" stroke-width="0.9"/>
<rect x="490.19" y="357.44" width="6.93" height="0.86" fill="#d9d9d9" stroke="#222" stroke-width="0.9"/>
<rect x="497.12" y="357.78" width="6.93" height="0.52" fill="#d9d9d9" stroke="#222" stroke-width="0.9"/>
<rect x="504.05" y="357.95" width="6.93" height="0.35" fill="#d9d9d9" stroke="#222" stroke-width="0.9"/>
<rect x="510.98" y="358.07" width="6.93" height="0.23" fill="#d9d9d9" stroke="#222" stroke-width="0.9"/>
<rect x="517.91" y="358.13" width="6.93" height="0.17" fill="#d9d9d9" stroke="#222" stroke-width="0.9"/>
<rect x="524.84" y="358.18" width="6.93" height="0.12" fill="#d9d9d9" stroke="#222" stroke-width="0.9"/>
<rect x="531.77" y="349.66" width="6.93" height="8.64" fill="#d9d9d9" stroke="#222" stroke-width="0.9"/>
<line x1="330.80" y1="358.30" x2="330.80" y2="362.10" stroke="#222" stroke-width="0.9"/>
<text x="0" y="0" font-size="8.8" font-weight="bold" text-anchor="end" transform="translate(334.70,368.50) rotate(-45)">0</text>
<line x1="344.66" y1="358.30" x2="344.66" y2="362.10" stroke="#222" stroke-width="0.9"/>
<text x="0" y="0" font-size="8.8" font-weight="bold" text-anchor="end" transform="translate(348.56,368.50) rotate(-45)">2</text>
<line x1="358.52" y1="358.30" x2="358.52" y2="362.10" stroke="#222" stroke-width="0.9"/>
<text x="0" y="0" font-size="8.8" font-weight="bold" text-anchor="end" transform="translate(362.42,368.50) rotate(-45)">4</text>
<line x1="372.38" y1="358.30" x2="372.38" y2="362.10" stroke="#222" stroke-width="0.9"/>
<text x="0" y="0" font-size="8.8" font-weight="bold" text-anchor="end" transform="translate(376.28,368.50) rotate(-45)">6</text>
<line x1="386.24" y1="358.30" x2="386.24" y2="362.10" stroke="#222" stroke-width="0.9"/>
<text x="0" y="0" font-size="8.8" font-weight="bold" text-anchor="end" transform="translate(390.14,368.50) rotate(-45)">8</text>
<line x1="400.10" y1="358.30" x2="400.10" y2="362.10" stroke="#222" stroke-width="0.9"/>
<text x="0" y="0" font-size="8.8" font-weight="bold" text-anchor="end" transform="translate(404.00,368.50) rotate(-45)">10</text>
<line x1="413.96" y1="358.30" x2="413.96" y2="362.10" stroke="#222" stroke-width="0.9"/>
<text x="0" y="0" font-size="8.8" font-weight="bold" text-anchor="end" transform="translate(417.86,368.50) rotate(-45)">12</text>
<line x1="427.82" y1="358.30" x2="427.82" y2="362.10" stroke="#222" stroke-width="0.9"/>
<text x="0" y="0" font-size="8.8" font-weight="bold" text-anchor="end" transform="translate(431.72,368.50) rotate(-45)">14</text>
<line x1="441.68" y1="358.30" x2="441.68" y2="362.10" stroke="#222" stroke-width="0.9"/>
<text x="0" y="0" font-size="8.8" font-weight="bold" text-anchor="end" transform="translate(445.58,368.50) rotate(-45)">16</text>
<line x1="455.54" y1="358.30" x2="455.54" y2="362.10" stroke="#222" stroke-width="0.9"/>
<text x="0" y="0" font-size="8.8" font-weight="bold" text-anchor="end" transform="translate(459.44,368.50) rotate(-45)">18</text>
<line x1="469.40" y1="358.30" x2="469.40" y2="362.10" stroke="#222" stroke-width="0.9"/>
<text x="0" y="0" font-size="8.8" font-weight="bold" text-anchor="end" transform="translate(473.30,368.50) rotate(-45)">20</text>
<line x1="483.26" y1="358.30" x2="483.26" y2="362.10" stroke="#222" stroke-width="0.9"/>
<text x="0" y="0" font-size="8.8" font-weight="bold" text-anchor="end" transform="translate(487.16,368.50) rotate(-45)">22</text>
<line x1="497.12" y1="358.30" x2="497.12" y2="362.10" stroke="#222" stroke-width="0.9"/>
<text x="0" y="0" font-size="8.8" font-weight="bold" text-anchor="end" transform="translate(501.02,368.50) rotate(-45)">24</text>
<line x1="510.98" y1="358.30" x2="510.98" y2="362.10" stroke="#222" stroke-width="0.9"/>
<text x="0" y="0" font-size="8.8" font-weight="bold" text-anchor="end" transform="translate(514.88,368.50) rotate(-45)">26</text>
<line x1="524.84" y1="358.30" x2="524.84" y2="362.10" stroke="#222" stroke-width="0.9"/>
<text x="0" y="0" font-size="8.8" font-weight="bold" text-anchor="end" transform="translate(528.74,368.50) rotate(-45)">28</text>
<line x1="538.70" y1="358.30" x2="538.70" y2="362.10" stroke="#222" stroke-width="0.9"/>
<text x="0" y="0" font-size="8.8" font-weight="bold" text-anchor="end" transform="translate(542.60,368.50) rotate(-45)"><tspan font-weight="normal" fill="#1a1a1a">&gt;=</tspan> 30</text>
<text x="0" y="0" font-size="11" font-weight="bold" text-anchor="middle" transform="translate(292.80,325.40) rotate(-90)">mRNA</text>
<text x="7.60" y="198.90" font-size="20" text-anchor="start" font-weight="bold" fill="#000" >C</text>
<text x="267.30" y="198.70" font-size="20" text-anchor="start" font-weight="bold" fill="#000" >D</text>
<text x="162.60" y="392.80" font-size="11.3" text-anchor="middle" font-weight="bold" fill="#000" >length</text>
<text x="434.80" y="394.60" font-size="11.3" text-anchor="middle" font-weight="bold" fill="#000" >exon number</text>
</svg>
</body></html>
